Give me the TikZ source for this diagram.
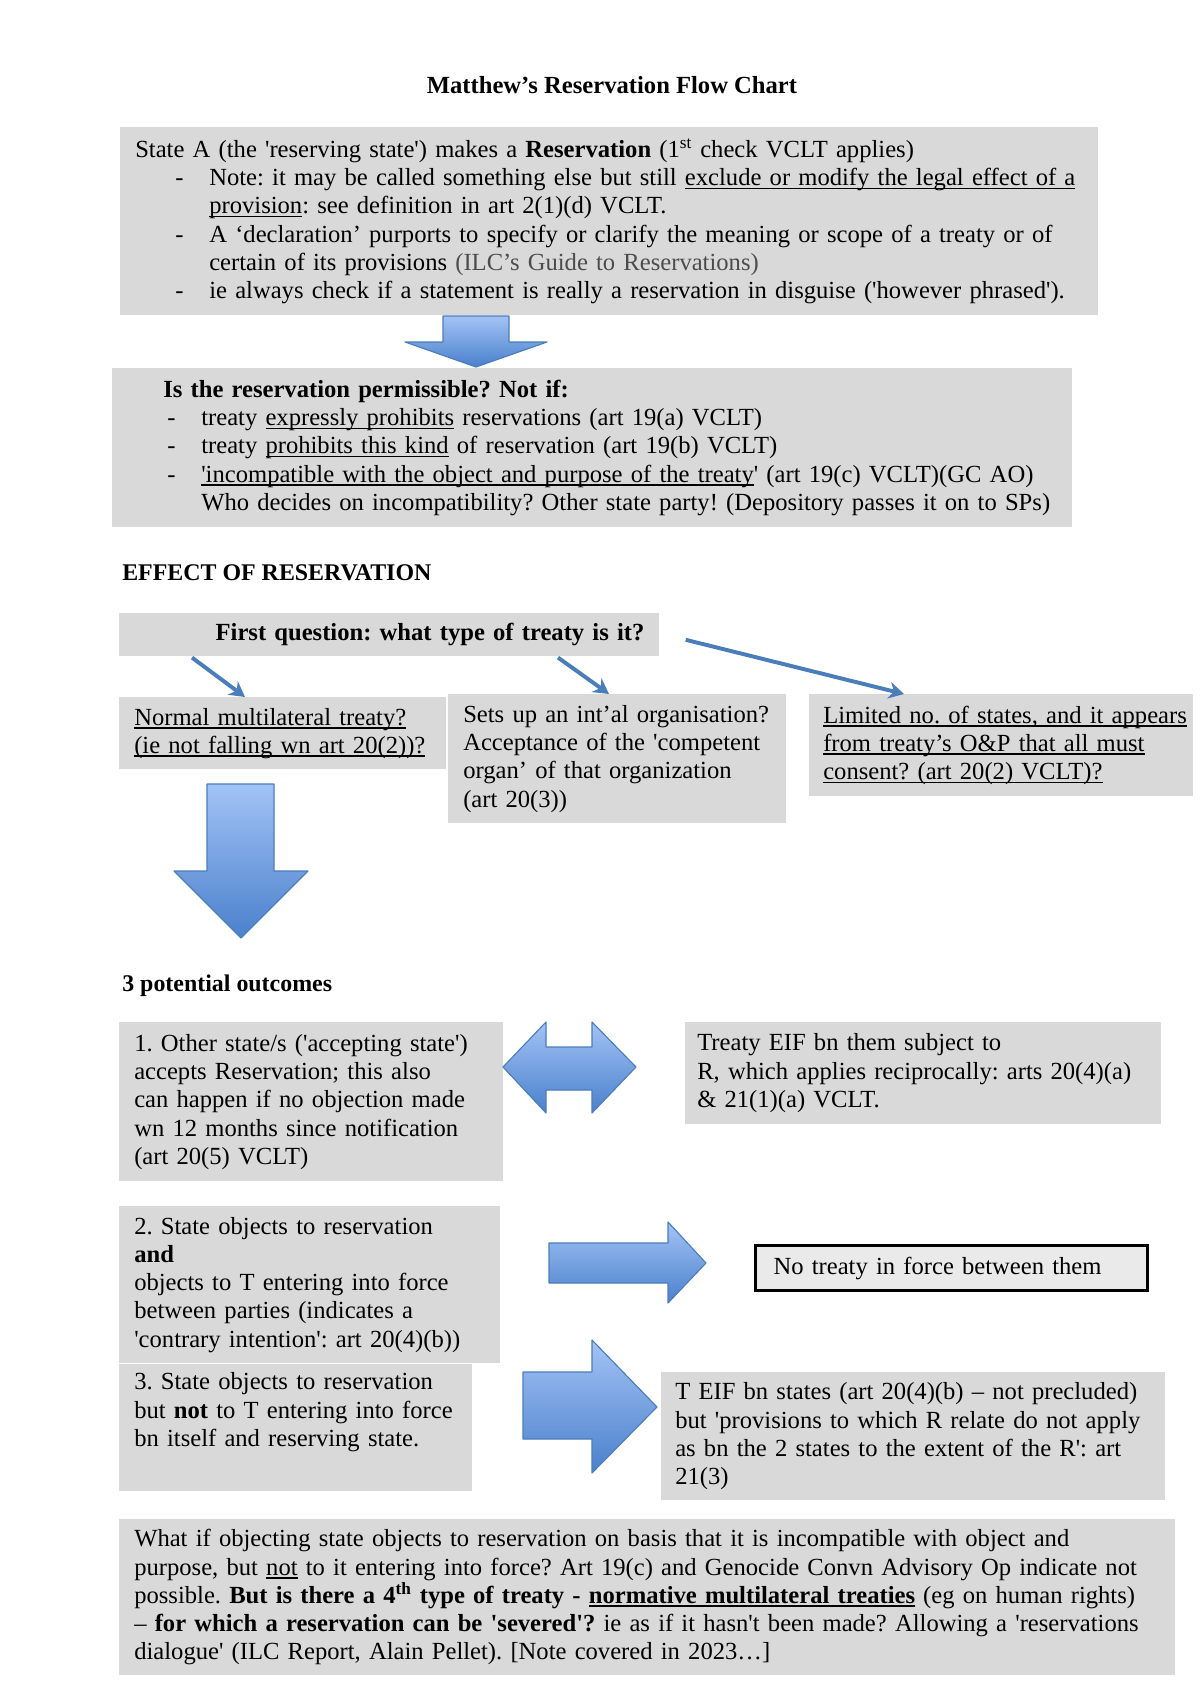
\documentclass[tikz,border=0pt]{standalone}
\usepackage{fontspec}
\setmainfont{Liberation Serif}
\usetikzlibrary{arrows.meta,calc}
\definecolor{boxgray}{HTML}{D9D9D9}
\definecolor{arrowtop}{HTML}{A3C3F5}
\definecolor{arrowbottom}{HTML}{4A80CC}
\definecolor{arrowedge}{HTML}{4A7EBB}
\frenchspacing
\newcommand{\sq}{\textquotesingle}
\newcommand{\itemdash}{\makebox[1.85cm][l]{\hspace{1cm}-}}
\newcommand{\indnt}{\hspace*{1.85cm}}
\newcommand{\uline}[1]{\leavevmode\setbox0\hbox{#1}\rlap{\rule[-2.6pt]{\wd0}{1.1pt}}\box0\relax}
\begin{document}
\begin{tikzpicture}[x=0.025cm,y=-0.025cm,
  box/.style={fill=boxgray,anchor=north west,inner xsep=0.375cm,inner ysep=0pt,align=left,font=\fontsize{17.5}{20.1}\selectfont\frenchspacing},
  heading/.style={anchor=base west,inner sep=0pt,font=\fontsize{17}{20.1}\selectfont\bfseries},
  blockarrow/.style={top color=arrowtop,bottom color=arrowbottom,draw=arrowedge,line width=0.8pt,line join=round},
  link/.style={draw=arrowedge,line width=2.8pt,-{Stealth[length=0.38cm,width=0.42cm]}}]
\useasboundingbox (0,0) rectangle (1200,1698);
\node[heading,anchor=base,font=\fontsize{17.5}{20.1}\selectfont\bfseries] (title) at (612,93) {Matthew’s Reservation Flow Chart};
\node[box,text width=23.675cm,minimum height=4.7cm] (state) at (120,127)
  {State A (the \sq reserving state\sq) makes a \textbf{Reservation} (1\textsuperscript{st} check VCLT applies)\\
   \itemdash Note: it may be called something else but still \uline{exclude or modify the legal effect of a}\\
   \indnt\uline{provision}: see definition in art 2(1)(d) VCLT.\\
   \itemdash A ‘declaration’ purports to specify or clarify the meaning or scope of a treaty or of\\
   \indnt certain of its provisions {\color{black!70}(ILC’s Guide to Reservations)}\\
   \itemdash ie always check if a statement is really a reservation in disguise (\sq however phrased\sq).};
\node[box,text width=23.225cm,minimum height=3.975cm] (permissible) at (112,368)
  {\hspace*{0.9cm}\textbf{Is the reservation permissible? Not if:}\\
   \itemdash treaty \uline{expressly prohibits} reservations (art 19(a) VCLT)\\
   \itemdash treaty \uline{prohibits this kind} of reservation (art 19(b) VCLT)\\
   \itemdash \uline{\sq incompatible with the object and purpose of the treaty}\sq{} (art 19(c) VCLT)(GC AO)\\
   \indnt Who decides on incompatibility? Other state party! (Depository passes it on to SPs)};
\node[heading] (effect) at (122,580) {EFFECT OF RESERVATION};
\node[box,text width=12.75cm,minimum height=1.075cm,align=right] (firstq) at (119,613)
  {\textbf{First question: what type of treaty is it?}};
\node[box,text width=7.425cm,minimum height=1.8cm] (normal) at (119,697)
  {\uline{Normal multilateral treaty?}\\
   \uline{(ie not falling wn art 20(2))?}};
\node[box,text width=7.7cm,minimum height=3.225cm] (orgn) at (448,694)
  {Sets up an int’al organisation?\\
   Acceptance of the \sq competent\\
   organ’ of that organization\\
   (art 20(3))};
\node[box,text width=8.9cm,inner xsep=0.35cm,minimum height=2.55cm] (limited) at (809,694)
  {\uline{Limited no. of states, and it appears}\\
   \uline{from treaty’s O\&P that all must}\\
   \uline{consent? (art 20(2) VCLT)?}};
\node[heading] (outcomes) at (122,991) {3 potential outcomes};
\node[box,text width=8.85cm,minimum height=3.975cm] (accept) at (119,1022)
  {1. Other state/s (\sq accepting state\sq)\\
   accepts Reservation; this also\\
   can happen if no objection made\\
   wn 12 months since notification\\
   (art 20(5) VCLT)};
\node[box,text width=11.3cm,inner xsep=0.3cm,minimum height=2.55cm] (eif) at (685,1022)
  {Treaty EIF bn them subject to\\
   R, which applies reciprocally: arts 20(4)(a)\\
   \& 21(1)(a) VCLT.};
\node[box,text width=8.775cm,minimum height=3.925cm] (objectboth) at (119,1206)
  {2. State objects to reservation\\
   \textbf{and}\\
   objects to T entering into force\\
   between parties (indicates a\\
   \sq contrary intention\sq: art 20(4)(b))};
\node[box,fill=boxgray!55,draw=black,line width=2.2pt,text width=8.9cm,inner xsep=0.45cm,minimum height=1.125cm] (notreaty) at (754,1244)
  {No treaty in force between them};
\node[box,text width=8.075cm,minimum height=3.175cm] (objectres) at (119,1364)
  {3. State objects to reservation\\
   but \textbf{not} to T entering into force\\
   bn itself and reserving state.\\[0.2cm]\mbox{}};
\node[box,text width=11.9cm,inner xsep=0.35cm,minimum height=3.2cm] (eifpartial) at (661,1372)
  {T EIF bn states (art 20(4)(b) – not precluded)\\
   but \sq provisions to which R relate do not apply\\
   as bn the 2 states to the extent of the R\sq: art\\
   21(3)};
\node[box,text width=25.625cm,minimum height=3.9cm] (fourth) at (119,1519)
  {What if objecting state objects to reservation on basis that it is incompatible with object and\\
   purpose, but \uline{not} to it entering into force? Art 19(c) and Genocide Convn Advisory Op indicate not\\
   possible. \textbf{But is there a 4\textsuperscript{th} type of treaty - \uline{normative multilateral treaties}} (eg on human rights)\\
   – \textbf{for which a reservation can be \sq severed\sq?} ie as if it hasn\sq t been made? Allowing a \sq reservations\\
   dialogue\sq{} (ILC Report, Alain Pellet). [Note covered in 2023\ldots]};
% block arrows
\draw[blockarrow] (443,316) -- (509,316) -- (509,342) -- (547,342) -- (476,367) -- (405,342) -- (443,342) -- cycle;
\draw[blockarrow] (207,784) -- (274,784) -- (274,871) -- (308,871) -- (241,938) -- (174,871) -- (207,871) -- cycle;
\draw[blockarrow] (503,1067) -- (546,1022) -- (546,1047) -- (592,1047) -- (592,1022) -- (636,1067)
  -- (592,1113) -- (592,1090) -- (546,1090) -- (546,1113) -- cycle;
\draw[blockarrow] (549,1243) -- (668,1243) -- (668,1222) -- (706,1263) -- (668,1303) -- (668,1283) -- (549,1283) -- cycle;
\draw[blockarrow] (523,1372) -- (592,1372) -- (592,1340) -- (657,1407) -- (592,1473) -- (592,1439) -- (523,1439) -- cycle;
% treaty type links
\draw[link] ($(firstq.south west)+(73,1)$) -- ($(normal.north west)+(126,0)$);
\draw[link] ($(firstq.south west)+(439,1)$) -- ($(orgn.north west)+(161,0)$);
\draw[link] ($(firstq.east)+(26,5)$) -- ($(limited.north west)+(95,0)$);
\end{tikzpicture}
\end{document}
